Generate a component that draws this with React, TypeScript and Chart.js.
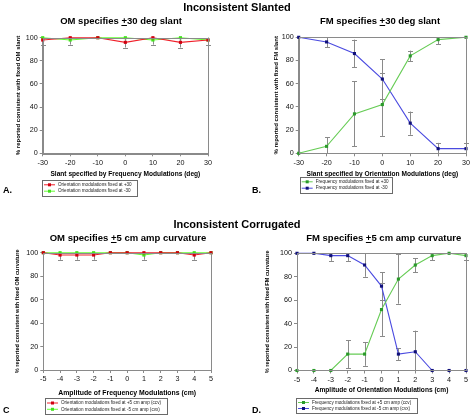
import React, { useEffect, useRef } from "react";
import { Chart, registerables } from "chart.js";

Chart.register(...registerables);

const FONT = '"Liberation Sans", Arial, Helvetica, sans-serif';

// ---- Slant conditions (deg) ----
const slantLevels = [-30, -20, -10, 0, 10, 20, 30];

// A: orientation modulations fixed, frequency-modulation slant varied
const omFixedPlus30 = [98, 100, 100, 96, 100, 96, 98];
const omFixedPlus30Err = [4, 0, 0, 4.5, 0, 4.5, 4];
const omFixedMinus30 = [100, 98, 100, 100, 98, 100, 98];
const omFixedMinus30Err = [0, 4, 0, 0, 4, 0, 4];

// B: frequency modulations fixed, orientation-modulation slant varied
const fmFixedPlus30 = [0, 6, 34, 42, 84, 98, 100];
const fmFixedPlus30Err = [0, 8, 28, 27, 4.5, 4, 0];
const fmFixedMinus30 = [100, 96, 86, 64, 26, 4, 4];
const fmFixedMinus30Err = [0, 4.5, 12, 17, 10, 5, 5];

// ---- Corrugation amplitudes (cm) ----
const ampLevels = [-5, -4, -3, -2, -1, 0, 1, 2, 3, 4, 5];

// C: orientation modulations fixed, frequency-modulation amplitude varied
const omFixedCcv = [100, 98, 98, 98, 100, 100, 100, 100, 100, 98, 100];
const omFixedCcvErr = [0, 4, 4, 4, 0, 0, 0, 0, 0, 4, 0];
const omFixedCvx = [100, 100, 100, 100, 100, 100, 98, 100, 100, 100, 100];
const omFixedCvxErr = [0, 0, 0, 0, 0, 0, 4, 0, 0, 0, 0];

// D: frequency modulations fixed, orientation-modulation amplitude varied
const fmFixedCcv = [0, 0, 0, 14, 14, 52, 78, 90, 98, 100, 98];
const fmFixedCcvErr = [0, 0, 0, 12, 10, 22.5, 21, 6, 4, 0, 4];
const fmFixedCvx = [100, 100, 98, 98, 90, 72, 14, 16, 0, 0, 0];
const fmFixedCvxErr = [0, 0, 4.5, 4.5, 10, 12, 5, 18, 0, 0, 0];

const yTicks = { min: 0, max: 100, step: 20 };

type Series = {
  label: string;
  values: number[];
  err: number[];
  line: string;
  marker: string;
};

type PanelSpec = {
  left: number;
  top: number;
  width: number;
  height: number;
  plot: { l: number; r: number; t: number; b: number };
  yTitleX: number;
  xTitleY: number;
  yTitleSize: number;
  xTitleSize: number;
  xs: number[];
  xStep: number;
  title: string;
  titleX: number;
  titleY: number;
  xTitle: string;
  yTitle: string;
  legend: { x: number; y: number; w: number; h: number };
  series: Series[];
};

const RED = { line: "#f0202a", marker: "#d00010" };
const LIME = { line: "#66ff33", marker: "#44e020" };
const GREEN = { line: "#66cc55", marker: "#2a9a2a" };
const BLUE = { line: "#4a4ae0", marker: "#10107a" };

const panels: PanelSpec[] = [
  {
    left: 0, top: 0, width: 237, height: 210,
    plot: { l: 42.7, r: 208, t: 37.7, b: 153.3 },
    yTitleX: 18, xTitleY: 174, yTitleSize: 6, xTitleSize: 6.6,
    xs: slantLevels, xStep: 10,
    title: "OM specifies +30 deg slant", titleX: 121, titleY: 21,
    xTitle: "Slant specified by Frequency Modulations (deg)",
    yTitle: "% reported consistent with fixed OM slant",
    legend: { x: 42, y: 180, w: 95, h: 16 },
    series: [
      { label: "Orientation modulations fixed at +30", values: omFixedPlus30, err: omFixedPlus30Err, ...RED },
      { label: "Orientation modulations fixed at -30", values: omFixedMinus30, err: omFixedMinus30Err, ...LIME },
    ],
  },
  {
    left: 237, top: 0, width: 237, height: 210,
    plot: { l: 61.7, r: 229, t: 37.3, b: 153.3 },
    yTitleX: 39.3, xTitleY: 174, yTitleSize: 6, xTitleSize: 6.6,
    xs: slantLevels, xStep: 10,
    title: "FM specifies +30 deg slant", titleX: 143, titleY: 21,
    xTitle: "Slant specified by Orientation Modulations (deg)",
    yTitle: "% reported consistent with fixed FM slant",
    legend: { x: 62.7, y: 177, w: 92.3, h: 16 },
    series: [
      { label: "Frequency modulations fixed at +30", values: fmFixedPlus30, err: fmFixedPlus30Err, ...GREEN },
      { label: "Frequency modulations fixed at -30", values: fmFixedMinus30, err: fmFixedMinus30Err, ...BLUE },
    ],
  },
  {
    left: 0, top: 210, width: 237, height: 207,
    plot: { l: 43.3, r: 211, t: 42.7, b: 160 },
    yTitleX: 17.3, xTitleY: 182.7, yTitleSize: 5.6, xTitleSize: 6.9,
    xs: ampLevels, xStep: 1,
    title: "OM specifies +5 cm amp curvature", titleX: 128, titleY: 28,
    xTitle: "Amplitude of Frequency Modulations (cm)",
    yTitle: "% reported consistent with fixed OM curvature",
    legend: { x: 45, y: 188.3, w: 121.7, h: 15.7 },
    series: [
      { label: "Orientation modulations fixed at +5 cm amp (ccv)", values: omFixedCcv, err: omFixedCcvErr, ...RED },
      { label: "Orientation modulations fixed at -5 cm amp (cvx)", values: omFixedCvx, err: omFixedCvxErr, ...LIME },
    ],
  },
  {
    left: 237, top: 210, width: 237, height: 207,
    plot: { l: 60, r: 229, t: 43.3, b: 160.5 },
    yTitleX: 30, xTitleY: 180, yTitleSize: 5.6, xTitleSize: 6.6,
    xs: ampLevels, xStep: 1,
    title: "FM specifies +5 cm amp curvature", titleX: 146.7, titleY: 28,
    xTitle: "Amplitude of Orientation Modulations (cm)",
    yTitle: "% reported consistent with fixed FM curvature",
    legend: { x: 59, y: 188, w: 121, h: 15 },
    series: [
      { label: "Frequency modulations fixed at +5 cm amp (ccv)", values: fmFixedCcv, err: fmFixedCcvErr, ...GREEN },
      { label: "Frequency modulations fixed at -5 cm amp (cvx)", values: fmFixedCvx, err: fmFixedCvxErr, ...BLUE },
    ],
  },
];

function buildConfig(spec: PanelSpec): any {
  const yLh = spec.yTitleSize * 1.2;
  const xLh = spec.xTitleSize * 1.2;
  const yScaleLeft = spec.yTitleX - yLh / 2;
  const yWidth = spec.plot.l - yScaleLeft;
  const xScaleBottom = spec.xTitleY + xLh / 2;
  const xHeight = xScaleBottom - spec.plot.b;
  const xMin = spec.xs[0];
  const xMax = spec.xs[spec.xs.length - 1];

  const decor = {
    id: "panelDecor",
    beforeDatasetsDraw(chart: any) {
      const { ctx, scales } = chart;
      const xs = scales.x;
      const ys = scales.y;
      ctx.save();
      ctx.strokeStyle = "#8a8a8a";
      ctx.lineWidth = 1;
      spec.series.forEach((s) => {
        s.values.forEach((v, j) => {
          const e = s.err[j];
          if (!e) return;
          const px = Math.round(xs.getPixelForValue(spec.xs[j])) + 0.5;
          const hi = v + e;
          const lo = v - e;
          const yHi = ys.getPixelForValue(Math.min(yTicks.max, hi));
          const yLo = ys.getPixelForValue(Math.max(yTicks.min, lo));
          ctx.beginPath();
          ctx.moveTo(px, yHi);
          ctx.lineTo(px, yLo);
          if (hi <= yTicks.max) {
            ctx.moveTo(px - 2.5, Math.round(yHi) + 0.5);
            ctx.lineTo(px + 2.5, Math.round(yHi) + 0.5);
          }
          if (lo >= yTicks.min) {
            ctx.moveTo(px - 2.5, Math.round(yLo) + 0.5);
            ctx.lineTo(px + 2.5, Math.round(yLo) + 0.5);
          }
          ctx.stroke();
        });
      });
      ctx.restore();
    },
    afterDraw(chart: any) {
      const { ctx, chartArea } = chart;
      ctx.save();
      // plot frame
      ctx.strokeStyle = "#8a8a8a";
      ctx.lineWidth = 1;
      ctx.strokeRect(
        Math.round(chartArea.left) + 0.5,
        Math.round(chartArea.top) + 0.5,
        Math.round(chartArea.right - chartArea.left),
        Math.round(chartArea.bottom - chartArea.top)
      );

      // panel title with underlined plus sign
      ctx.font = `bold 9.5px ${FONT}`;
      ctx.fillStyle = "#000";
      ctx.textBaseline = "middle";
      ctx.textAlign = "left";
      const full = spec.title;
      const w = ctx.measureText(full).width;
      const x0 = spec.titleX - w / 2;
      ctx.fillText(full, x0, spec.titleY);
      const k = full.indexOf("+");
      if (k >= 0) {
        const pre = ctx.measureText(full.slice(0, k)).width;
        const pw = ctx.measureText("+").width;
        ctx.fillRect(x0 + pre, spec.titleY + 4, pw, 1);
      }

      // legend box
      const lg = spec.legend;
      ctx.fillStyle = "#fff";
      ctx.fillRect(lg.x, lg.y, lg.w, lg.h);
      ctx.strokeStyle = "#6a6a6a";
      ctx.strokeRect(Math.round(lg.x) + 0.5, Math.round(lg.y) + 0.5, Math.round(lg.w), Math.round(lg.h));
      ctx.font = `4.6px ${FONT}`;
      ctx.textBaseline = "middle";
      spec.series.forEach((s, i) => {
        const ry = lg.y + lg.h * (0.3 + 0.4 * i);
        ctx.strokeStyle = s.line;
        ctx.lineWidth = 1;
        ctx.beginPath();
        ctx.moveTo(lg.x + 2, ry);
        ctx.lineTo(lg.x + 13, ry);
        ctx.stroke();
        ctx.fillStyle = s.marker;
        ctx.fillRect(lg.x + 6, ry - 1.5, 3, 3);
        ctx.fillStyle = "#222";
        ctx.fillText(s.label, lg.x + 16, ry);
      });
      ctx.restore();
    },
  };

  return {
    type: "line",
    data: {
      datasets: spec.series.map((s) => ({
        label: s.label,
        data: spec.xs.map((x, j) => ({ x, y: s.values[j] })),
        borderColor: s.line,
        backgroundColor: s.marker,
        pointBackgroundColor: s.marker,
        pointBorderColor: s.marker,
        pointStyle: "rect",
        pointRadius: 2.2,
        pointBorderWidth: 0,
        borderWidth: 1.1,
        tension: 0,
        clip: false,
      })),
    },
    options: {
      responsive: false,
      animation: false,
      devicePixelRatio: 1,
      layout: {
        autoPadding: false,
        padding: {
          left: yScaleLeft,
          top: spec.plot.t,
          right: spec.width - spec.plot.r,
          bottom: spec.height - xScaleBottom,
        },
      },
      plugins: {
        legend: { display: false },
        title: { display: false },
        tooltip: { enabled: false },
      },
      scales: {
        x: {
          type: "linear",
          position: "bottom",
          min: xMin,
          max: xMax,
          afterFit: (s: any) => {
            s.height = xHeight;
          },
          ticks: {
            stepSize: spec.xStep,
            font: { family: FONT, size: 7.2 },
            color: "#111",
            padding: 2,
            maxRotation: 0,
            autoSkip: false,
          },
          grid: { drawOnChartArea: false, drawTicks: true, tickLength: 3, color: "#8a8a8a" },
          border: { display: true, color: "#8a8a8a" },
          title: {
            display: true,
            text: spec.xTitle,
            font: { family: FONT, size: spec.xTitleSize, weight: "bold" },
            color: "#000",
            padding: 0,
          },
        },
        y: {
          type: "linear",
          position: "left",
          min: yTicks.min,
          max: yTicks.max,
          afterFit: (s: any) => {
            s.width = yWidth;
          },
          ticks: {
            stepSize: yTicks.step,
            font: { family: FONT, size: 7.2 },
            color: "#111",
            padding: 2,
          },
          grid: { drawOnChartArea: false, drawTicks: true, tickLength: 3, color: "#8a8a8a" },
          border: { display: true, color: "#8a8a8a" },
          title: {
            display: true,
            text: spec.yTitle,
            font: { family: FONT, size: spec.yTitleSize, weight: "bold" },
            color: "#000",
            padding: 0,
          },
        },
      },
    },
    plugins: [decor],
  };
}

function Panel({ spec }: { spec: PanelSpec }) {
  const ref = useRef<HTMLCanvasElement>(null);
  useEffect(() => {
    const chart = new Chart(ref.current as HTMLCanvasElement, buildConfig(spec));
    return () => chart.destroy();
  }, [spec]);
  return (
    <canvas
      ref={ref}
      width={spec.width}
      height={spec.height}
      style={{ position: "absolute", left: spec.left, top: spec.top, width: spec.width, height: spec.height }}
    />
  );
}

const headingStyle: React.CSSProperties = {
  position: "absolute",
  left: 0,
  width: 474,
  textAlign: "center",
  fontFamily: FONT,
  fontWeight: "bold",
  fontSize: 11,
  lineHeight: "12px",
  color: "#000",
};

const letterStyle: React.CSSProperties = {
  position: "absolute",
  fontFamily: FONT,
  fontWeight: "bold",
  fontSize: 9,
  lineHeight: "10px",
  color: "#000",
};

export default function App() {
  return (
    <div style={{ position: "absolute", left: 0, top: 0, width: 474, height: 417, background: "#fff", overflow: "hidden" }}>
      {panels.map((p, i) => (
        <Panel key={i} spec={p} />
      ))}
      <div style={{ ...headingStyle, top: 1 }}>Inconsistent Slanted</div>
      <div style={{ ...headingStyle, top: 218 }}>Inconsistent Corrugated</div>
      <div style={{ ...letterStyle, left: 3, top: 185 }}>A.</div>
      <div style={{ ...letterStyle, left: 252, top: 185 }}>B.</div>
      <div style={{ ...letterStyle, left: 3, top: 405 }}>C</div>
      <div style={{ ...letterStyle, left: 252, top: 405 }}>D.</div>
    </div>
  );
}
